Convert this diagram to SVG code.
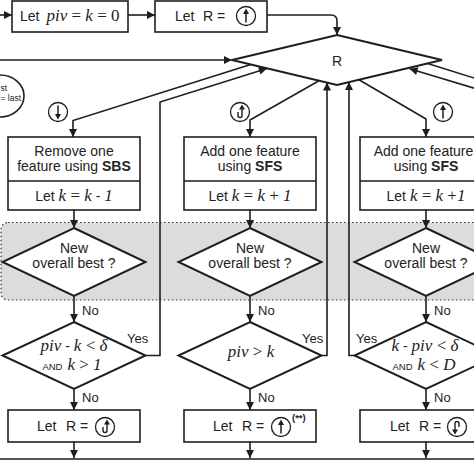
<svg xmlns="http://www.w3.org/2000/svg" width="474" height="474" viewBox="0 0 474 474">
<style>
.bx{fill:#fff;stroke:#1e1e1e;stroke-width:1.6}
.dm{fill:#fff;stroke:#1e1e1e;stroke-width:2}
.ln{fill:none;stroke:#1e1e1e;stroke-width:1.6}
.ar{marker-end:url(#ah)}
text{fill:#222}
.s{font-family:"Liberation Sans",Arial,sans-serif;font-size:14px}
.m{font-family:"Liberation Serif","Times New Roman",serif;font-size:17px}
.i{font-style:italic}
.sm{font-family:"Liberation Sans",Arial,sans-serif;font-size:9.5px}
.el{font-family:"Liberation Sans",Arial,sans-serif;font-size:8.5px}
.lb{font-family:"Liberation Sans",Arial,sans-serif;font-size:13px}
.c{text-anchor:middle}
.sym{fill:#fff;stroke:#1e1e1e;stroke-width:1.3}
</style>
<defs>
<marker id="ah" viewBox="0 0 10 10" refX="10" refY="5" markerWidth="9" markerHeight="8" markerUnits="userSpaceOnUse" orient="auto"><path d="M0,0 L10,5 L0,10 z" fill="#1e1e1e"/></marker>
<g id="up"><circle r="9.5" class="sym"/><path d="M0,6.5 V-3" stroke="#1e1e1e" stroke-width="1.5"/><path d="M0,-7.5 L-3,-2 L3,-2 z" fill="#1e1e1e"/></g>
<g id="dn" transform="rotate(180)"><circle r="9.5" class="sym"/><path d="M0,6.5 V-3" stroke="#1e1e1e" stroke-width="1.5"/><path d="M0,-7.5 L-3,-2 L3,-2 z" fill="#1e1e1e"/></g>
<g id="upU"><circle r="9.5" class="sym"/><path d="M-2,0 V3.5 A2,2 0 0 0 2,3.5 V-3" fill="none" stroke="#1e1e1e" stroke-width="1.4"/><path d="M2,-7.5 L-1,-2.5 L5,-2.5 z" fill="#1e1e1e"/></g>
<g id="dnU" transform="rotate(180)"><circle r="9.5" class="sym"/><path d="M-2,0 V3.5 A2,2 0 0 0 2,3.5 V-3" fill="none" stroke="#1e1e1e" stroke-width="1.4"/><path d="M2,-7.5 L-1,-2.5 L5,-2.5 z" fill="#1e1e1e"/></g>
</defs>

<rect id="band" x="1" y="222.5" width="520" height="77.5" rx="7" fill="#dcdcdc" stroke="#333" stroke-width="1.2" stroke-dasharray="1.5 2.5"/>

<g id="connectors">
<path class="ln ar" d="M0,15 H12"/>
<path class="ln ar" d="M128,15 H155"/>
<path class="ln ar" d="M267,15 H331 Q337,15 337,21 V35"/>
<path class="ln ar" d="M0,60 H232"/>
<path class="ln ar" d="M250.7,64.5 L73,120.5 V137"/>
<path class="ln ar" d="M145.5,355.5 H160 V102 L266.9,68.4"/>
<path class="ln ar" d="M319,80.7 L250,120 V137"/>
<path class="ln ar" d="M321.5,355.5 H327 V82.6"/>
<path class="ln ar" d="M354.5,355.5 H349 V82.1"/>
<path class="ln ar" d="M359,79.8 L426,119 V137"/>
<path class="ln" d="M427.6,63.4 L480,79.9"/>
<path class="ln ar" d="M480,89.9 L409.6,68.8"/>
<path class="ln ar" d="M74,210 V228"/>
<path class="ln ar" d="M250,210 V228"/>
<path class="ln ar" d="M426,210 V228"/>
<path class="ln ar" d="M74,296 V322"/>
<path class="ln ar" d="M250,296 V322"/>
<path class="ln ar" d="M426,296 V322"/>
<path class="ln ar" d="M74,389 V410"/>
<path class="ln ar" d="M250,389 V410"/>
<path class="ln ar" d="M426,389 V410"/>
<path class="ln ar" d="M74,442 V458"/>
<path class="ln ar" d="M250,442 V458"/>
<path class="ln ar" d="M426,442 V458"/>
<path class="ln" d="M0,459 H474"/>
<text class="lb" x="82" y="315">No</text>
<text class="lb" x="258" y="315">No</text>
<text class="lb" x="434" y="315">No</text>
<text class="lb" x="82" y="402">No</text>
<text class="lb" x="258" y="402">No</text>
<text class="lb" x="434" y="402">No</text>
<text class="lb" x="127" y="343">Yes</text>
<text class="lb" x="302" y="343">Yes</text>
<text class="lb" x="356" y="343">Yes</text>
</g>

<g id="init">
<rect class="bx" x="12" y="1" width="116" height="31"/>
<text x="20" y="21"><tspan class="s">Let</tspan><tspan class="m i" dx="7">piv</tspan><tspan class="m"> = </tspan><tspan class="m i">k</tspan><tspan class="m"> = 0</tspan></text>
</g>
<g id="setR">
<rect class="bx" x="155" y="1" width="112" height="31"/>
<text class="s" x="175" y="21">Let</text>
<text class="s" x="203" y="21">R =</text>
<use href="#up" x="246" y="16"/>
</g>
<g id="ellipse">
<ellipse class="bx" cx="0" cy="96" rx="24" ry="21"/>
<text class="el" x="0.5" y="91">st</text>
<text class="el" x="0.5" y="101">= last</text>
</g>
<g id="decisionR">
<polygon class="dm" points="337,35 442,60 337,85 232,60"/>
<text class="s c" x="337" y="66">R</text>
</g>

<use href="#dn" x="58" y="112"/>
<use href="#upU" x="240" y="112"/>
<use href="#up" x="443" y="112"/>

<g id="sbs">
<rect class="bx" x="8" y="137" width="132" height="73"/>
<path class="ln" d="M8,181 H140"/>
<text class="s c" x="74" y="156">Remove one</text>
<text class="s c" x="74" y="171">feature using <tspan font-weight="bold">SBS</tspan></text>
<text class="c" x="74" y="201"><tspan class="s">Let </tspan><tspan class="m i"> k</tspan><tspan class="m"> = </tspan><tspan class="m i">k</tspan><tspan class="s"> - </tspan><tspan class="m i">1</tspan></text>
</g>
<g id="sfs1">
<rect class="bx" x="184" y="137" width="132" height="73"/>
<path class="ln" d="M184,181 H316"/>
<text class="s c" x="250" y="156">Add one feature</text>
<text class="s c" x="250" y="171">using <tspan font-weight="bold">SFS</tspan></text>
<text class="c" x="250" y="201"><tspan class="s">Let </tspan><tspan class="m i"> k</tspan><tspan class="m"> = </tspan><tspan class="m i">k</tspan><tspan class="m"> + </tspan><tspan class="m i">1</tspan></text>
</g>
<g id="sfs2">
<rect class="bx" x="360" y="137" width="132" height="73"/>
<path class="ln" d="M360,181 H492"/>
<text class="s c" x="423.5" y="156">Add one feature</text>
<text class="s c" x="426" y="171">using <tspan font-weight="bold">SFS</tspan></text>
<text class="c" x="426" y="201"><tspan class="s">Let </tspan><tspan class="m i"> k</tspan><tspan class="m"> = </tspan><tspan class="m i">k</tspan><tspan class="m"> +</tspan><tspan class="m i">1</tspan></text>
</g>

<g id="best1">
<polygon class="dm" points="74,228 145.5,262 74,296 2.5,262"/>
<text class="s c" x="74" y="253">New</text>
<text class="s c" x="74" y="268">overall best ?</text>
</g>
<g id="best2">
<polygon class="dm" points="250,228 321.5,262 250,296 178.5,262"/>
<text class="s c" x="250" y="253">New</text>
<text class="s c" x="250" y="268">overall best ?</text>
</g>
<g id="best3">
<polygon class="dm" points="426,228 497.5,262 426,296 354.5,262"/>
<text class="s c" x="426" y="253">New</text>
<text class="s c" x="426" y="268">overall best ?</text>
</g>

<g id="cond1">
<polygon class="dm" points="74,322 145.5,355.5 74,389 2.5,355.5"/>
<text class="c" x="74" y="351"><tspan class="m i">piv</tspan><tspan class="s"> - </tspan><tspan class="m i">k</tspan><tspan class="m"> &lt; </tspan><tspan class="m i">δ</tspan></text>
<text class="c" x="72" y="370"><tspan class="sm">AND</tspan><tspan class="m i" dx="5">k</tspan><tspan class="m"> &gt; </tspan><tspan class="m i">1</tspan></text>
</g>
<g id="cond2">
<polygon class="dm" points="250,322 321.5,355.5 250,389 178.5,355.5"/>
<text class="c" x="251" y="357"><tspan class="m i">piv</tspan><tspan class="m"> &gt; </tspan><tspan class="m i">k</tspan></text>
</g>
<g id="cond3">
<polygon class="dm" points="426,322 497.5,355.5 426,389 354.5,355.5"/>
<text class="c" x="425" y="351"><tspan class="m i">k</tspan><tspan class="s"> - </tspan><tspan class="m i">piv</tspan><tspan class="m"> &lt; </tspan><tspan class="m i">δ</tspan></text>
<text class="c" x="424" y="370"><tspan class="sm">AND</tspan><tspan class="m i" dx="5">k</tspan><tspan class="m"> &lt; </tspan><tspan class="m i">D</tspan></text>
</g>

<g id="setR1">
<rect class="bx" x="8" y="410" width="132" height="32"/>
<text class="s" x="37" y="431">Let</text>
<text class="s" x="66" y="431">R =</text>
<use href="#upU" x="105" y="427"/>
</g>
<g id="setR2">
<rect class="bx" x="184" y="410" width="132" height="32"/>
<text class="s" x="213" y="431">Let</text>
<text class="s" x="242" y="431">R =</text>
<use href="#up" x="281" y="427"/>
<text x="292" y="421" font-family="Liberation Sans,Arial,sans-serif" font-size="9.5" font-weight="bold">(**)</text>
</g>
<g id="setR3">
<rect class="bx" x="360" y="410" width="132" height="32"/>
<text class="s" x="390" y="431">Let</text>
<text class="s" x="419" y="431">R =</text>
<use href="#dnU" x="457" y="427"/>
</g>
</svg>
